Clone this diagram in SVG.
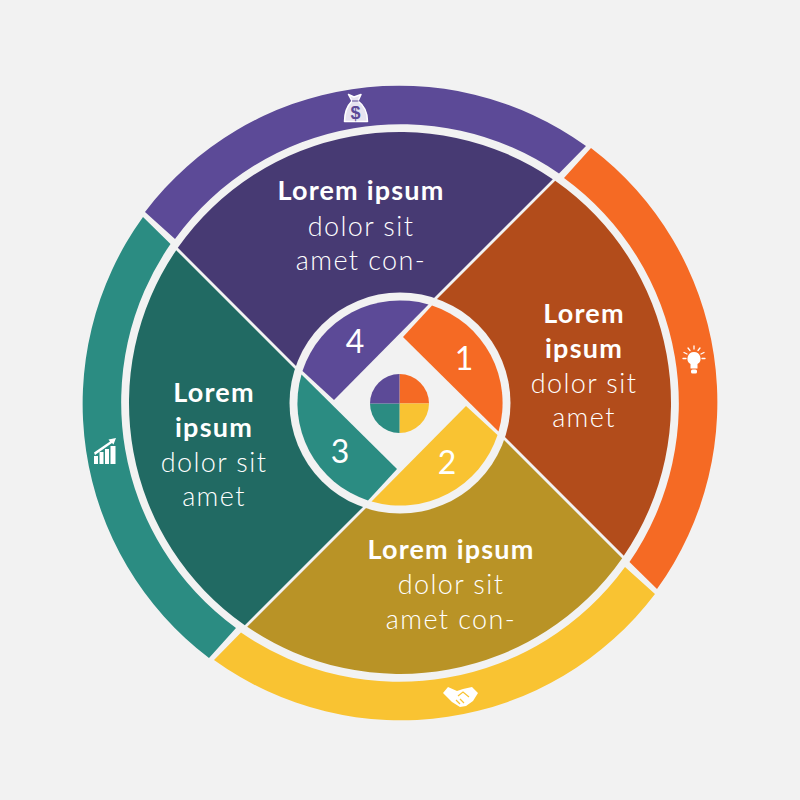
<svg xmlns="http://www.w3.org/2000/svg" xmlns:xlink="http://www.w3.org/1999/xlink" width="800" height="800" viewBox="0 0 800 800">
<style>
.h{font:700 27px Lato,"Liberation Sans",sans-serif;letter-spacing:1.2px;fill:#fff;text-anchor:middle}
.t{font:300 27px Lato,"Liberation Sans",sans-serif;letter-spacing:1.4px;fill:#fff;text-anchor:middle}
.n{font:400 32px Lato,"Liberation Sans",sans-serif;fill:#fff;text-anchor:middle}
.o{fill:#f56a24}.O{fill:#b24c1b}.y{fill:#f9c332}.Y{fill:#b99326}.g{fill:#2b8c82}.G{fill:#216a63}.p{fill:#5c4a97}.P{fill:#473a73}
.w{fill:#fff}.ws{fill:none;stroke:#fff;stroke-width:1.300;stroke-linecap:round}
</style>
<defs>
<path id="band" d="M191,-255A319,319 0 0 1 257,186L229.5,159A279,279 0 0 0 164,-225Z"/>
<path id="sector" d="M155.200,-222.200A271,271 0 0 1 223.800,152.800L100,29L0,0L35,-102Z"/>
<path id="inner" d="M32,-97.5A102.5,102.5 0 0 1 98.5,28.5L3,-66Z"/>
<path id="quad" d="M0,0V-29.5A29.5,29.5 0 0 1 29.5,0Z"/>
</defs>
<rect width="800" height="800" fill="#f2f2f2"/>
<g id="connectors"/>
<g id="segment-1" transform="translate(400 403)"><use xlink:href="#band" class="o"/><use xlink:href="#sector" class="O"/></g>
<g id="segment-2" transform="translate(400 403)"><use xlink:href="#band" class="y" transform="rotate(90)"/><use xlink:href="#sector" class="Y" transform="rotate(90)"/></g>
<g id="segment-3" transform="translate(400 403)"><use xlink:href="#band" class="g" transform="rotate(180)"/><use xlink:href="#sector" class="G" transform="rotate(180)"/></g>
<g id="segment-4" transform="translate(400 403)"><use xlink:href="#band" class="p" transform="rotate(270)"/><use xlink:href="#sector" class="P" transform="rotate(270)"/></g>
<circle id="hub-disc" cx="400" cy="403" r="110.5" fill="#f2f2f2"/>
<g id="hub-1" transform="translate(400 403)"><use xlink:href="#inner" class="o"/><text class="n" x="64" y="-33">1</text></g>
<g id="hub-2" transform="translate(400 403)"><use xlink:href="#inner" class="y" transform="rotate(90)"/><text class="n" x="47" y="71">2</text></g>
<g id="hub-3" transform="translate(400 403)"><use xlink:href="#inner" class="g" transform="rotate(180)"/><text class="n" x="-60" y="60">3</text></g>
<g id="hub-4" transform="translate(400 403)"><use xlink:href="#inner" class="p" transform="rotate(270)"/><text class="n" x="-45" y="-50">4</text></g>
<g id="center" transform="translate(399.5 403.5)"><use xlink:href="#quad" class="o"/><use xlink:href="#quad" class="y" transform="rotate(90)"/><use xlink:href="#quad" class="g" transform="rotate(180)"/><use xlink:href="#quad" class="p" transform="rotate(270)"/></g>
<g id="label-1"><text class="h" x="584" y="323">Lorem</text><text class="h" x="584" y="358">ipsum</text><text class="t" x="584" y="393">dolor sit</text><text class="t" x="584" y="427">amet</text></g>
<g id="label-2"><text class="h" x="451" y="559">Lorem ipsum</text><text class="t" x="451" y="594">dolor sit</text><text class="t" x="451" y="629">amet con-</text></g>
<g id="label-3"><text class="h" x="214" y="402">Lorem</text><text class="h" x="214" y="437">ipsum</text><text class="t" x="214" y="472">dolor sit</text><text class="t" x="214" y="506">amet</text></g>
<g id="label-4"><text class="h" x="361" y="200">Lorem ipsum</text><text class="t" x="361" y="236">dolor sit</text><text class="t" x="361" y="270">amet con-</text></g>
<g id="icon-bag"><path d="M348.500,94.500L354,97L361,94.500L358,101C365,106 367.500,113 367.500,121.500H344.500C344.500,113 347,106 352,101Z" fill="#e6e3f0" stroke="#fff" stroke-width="1.500" stroke-linejoin="round"/><path d="M352,101H358.500" stroke="#5c4a97" stroke-width="1"/><text x="355.500" y="119" font-family="Liberation Sans,sans-serif" font-weight="700" font-size="18" text-anchor="middle" fill="#5c4a97">$</text></g>
<g id="icon-bulb"><path class="w" d="M694,352A6.500,6.500 0 0 1 697.500,364V368.500H690.500V364A6.500,6.500 0 0 1 694,352Z"/><rect class="w" x="691" y="369.500" width="6" height="4" rx="1.500"/><path class="ws" d="M683,358.500H686M705,358.500H702M684,352.500L687,354M704,352.500L701,354M688,348L690,350.500M700,348L698,350.500M694,346V349"/></g>
<g id="icon-handshake"><path class="w" d="M443,693L448,687L457,691L463,689L472,687L478,693L473,701L466,706L460,707L452,702Z"/><path d="M458,696L463,692L469,697M460,699L464,703M456,700L460,704" fill="none" stroke="#f9c332" stroke-width="1.200"/></g>
<g id="icon-chart"><rect class="w" x="94" y="456" width="4" height="8"/><rect class="w" x="99.500" y="452" width="4" height="12"/><rect class="w" x="105" y="449" width="4" height="15"/><rect class="w" x="110.500" y="446" width="5" height="18"/><path class="w" d="M94,452.500L110,441.500L108.500,439.500L116,438L113.500,444.500L112,443L95,455Z"/></g>
</svg>
